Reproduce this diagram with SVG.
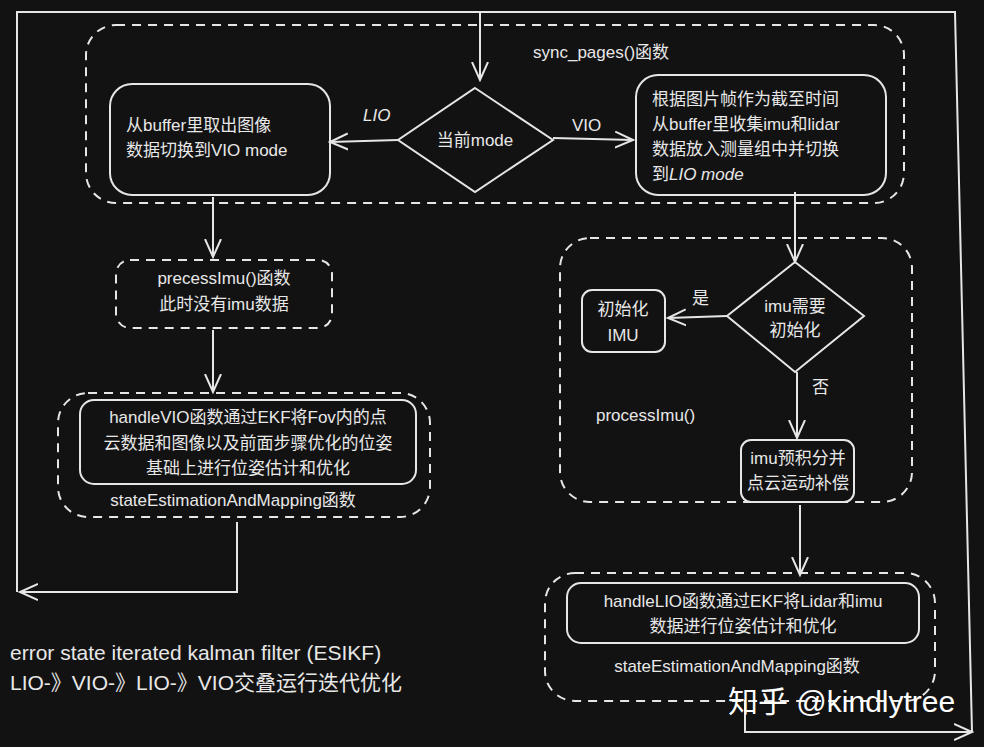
<svg xmlns="http://www.w3.org/2000/svg" width="984" height="747" viewBox="0 0 984 747">
<defs>
<marker id="ah" viewBox="0 0 20 20" refX="18" refY="10" markerWidth="20" markerHeight="20" markerUnits="userSpaceOnUse" orient="auto"><path d="M0,2 L18,10 L0,18" fill="none" stroke="#e6e6e6" stroke-width="2"/></marker>
</defs>
<style>
text{font-family:"Liberation Sans","Noto Sans CJK SC",sans-serif;fill:#e8e8e8;font-size:17px}
.c{text-anchor:middle}
.s{fill:none;stroke:#e6e6e6;stroke-width:2}
.d{fill:none;stroke:#e6e6e6;stroke-width:2;stroke-dasharray:9 7}
.ln{fill:none;stroke:#e6e6e6;stroke-width:2}
</style>
<rect width="984" height="747" fill="#121212"/>
<g id="connectors">
<path class="ln" d="M17,592 L17,12 L955,12 L972,732"/>
<path class="ln" d="M480,12 L480,80" marker-end="url(#ah)"/>
<path class="ln" d="M398,140 L330,142" marker-end="url(#ah)"/>
<path class="ln" d="M553,138 L633,140" marker-end="url(#ah)"/>
<path class="ln" d="M213,197 L213,257" marker-end="url(#ah)"/>
<path class="ln" d="M213,330 L213,392" marker-end="url(#ah)"/>
<path class="ln" d="M237,522 L237,592 L20,592" marker-end="url(#ah)"/>
<path class="ln" d="M795,192 L795,262" marker-end="url(#ah)"/>
<path class="ln" d="M727,316 L668,318" marker-end="url(#ah)"/>
<path class="ln" d="M797,372 L797,438" marker-end="url(#ah)"/>
<path class="ln" d="M800,505 L800,575" marker-end="url(#ah)"/>
<path class="ln" d="M745,700 L745,732 L972,732" marker-end="url(#ah)"/>
<text x="363" y="121" style="font-style:italic">LIO</text>
<text x="572" y="131">VIO</text>
<text x="692" y="304">是</text>
<text x="812" y="393">否</text>
</g>
<g id="sync"><rect x="86" y="25" width="818" height="178" rx="30" class="d"/><text x="533" y="58">sync_pages()函数</text></g>
<g id="buffer"><rect x="110" y="84" width="220" height="111" rx="22" class="s"/><text x="126" y="131">从buffer里取出图像</text><text x="126" y="156">数据切换到VIO mode</text></g>
<g id="mode"><path class="s" d="M475,88 L553,140 L475,192 L398,140 Z"/><text x="475" y="146" class="c">当前mode</text></g>
<g id="collect"><rect x="636" y="75" width="250" height="120" rx="22" class="s"/><text x="652" y="105">根据图片帧作为截至时间</text><text x="652" y="130">从buffer里收集imu和lidar</text><text x="652" y="155">数据放入测量组中并切换</text><text x="652" y="180">到<tspan style="font-style:italic">LIO mode</tspan></text></g>
<g id="processImu1"><rect x="116" y="260" width="216" height="68" rx="14" class="d"/><text x="224" y="284" class="c">precessImu()函数</text><text x="224" y="310" class="c">此时没有imu数据</text></g>
<g id="vio"><rect x="58" y="393" width="372" height="124" rx="30" class="d"/><rect x="80" y="400" width="336" height="84" rx="14" class="s"/><text x="248" y="423" class="c">handleVIO函数通过EKF将Fov内的点</text><text x="248" y="449" class="c">云数据和图像以及前面步骤优化的位姿</text><text x="248" y="474" class="c">基础上进行位姿估计和优化</text><text x="233" y="506" class="c">stateEstimationAndMapping函数</text></g>
<g id="imuGroup"><rect x="560" y="238" width="352" height="264" rx="30" class="d"/><text x="596" y="421">processImu()</text></g>
<g id="initImu"><rect x="582" y="290" width="83" height="62" rx="10" class="s"/><text x="623" y="315" class="c">初始化</text><text x="623" y="341" class="c">IMU</text></g>
<g id="needInit"><path class="s" d="M795,262 L864,316 L795,372 L727,316 Z"/><text x="795" y="312" class="c">imu需要</text><text x="795" y="336" class="c">初始化</text></g>
<g id="preint"><rect x="741" y="440" width="113" height="62" rx="10" class="s"/><text x="798" y="464" class="c">imu预积分并</text><text x="798" y="489" class="c">点云运动补偿</text></g>
<g id="lio"><rect x="545" y="573" width="390" height="128" rx="30" class="d"/><rect x="567" y="583" width="352" height="60" rx="14" class="s"/><text x="743" y="607" class="c">handleLIO函数通过EKF将Lidar和imu</text><text x="743" y="632" class="c">数据进行位姿估计和优化</text><text x="737" y="672" class="c">stateEstimationAndMapping函数</text></g>
<g id="note"><text x="10" y="660" style="font-size:21px">error state iterated kalman filter (ESIKF)</text><text x="10" y="690" style="font-size:21px">LIO-》VIO-》LIO-》VIO交叠运行迭代优化</text></g>
<g id="watermark"><text x="728" y="712" style="font-size:30px;fill:#fff">知乎 @kindlytree</text></g>
</svg>
